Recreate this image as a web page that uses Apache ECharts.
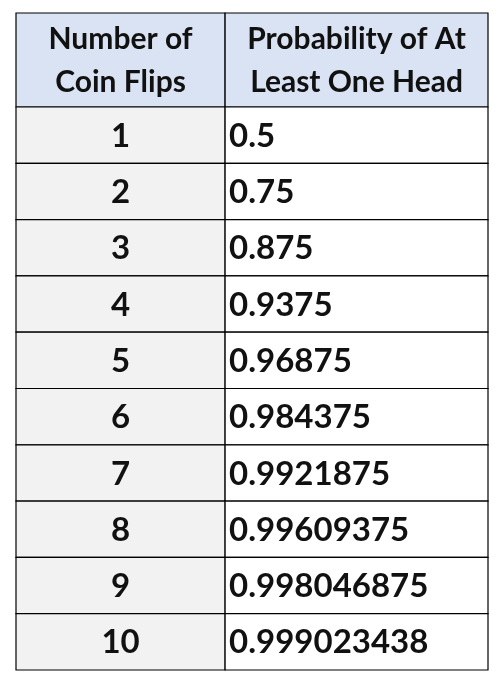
<!DOCTYPE html><html><head><meta charset="utf-8">
<script src="https://cdn.jsdelivr.net/npm/echarts@6/dist/echarts.min.js"></script>
<style>html,body{margin:0;background:#fff}#c{width:503px;height:676px}</style></head><body><div id="c"></div>
<script>
const headers = ['Number of\nCoin Flips', 'Probability of At\nLeast One Head'];
const flips = ['1','2','3','4','5','6','7','8','9','10'];
const probs = ['0.5','0.75','0.875','0.9375','0.96875','0.984375','0.9921875','0.99609375','0.998046875','0.999023438'];

const SPLIT = 0.443, HEAD = -1.67;
const cells = [];
headers.forEach((h, c) => cells.push([c, -1, h]));
flips.forEach((f, r) => { cells.push([0, r, f]); cells.push([1, r, probs[r]]); });

const chart = echarts.init(document.getElementById('c'));
chart.setOption({
  animation: false,
  grid: {left: 16, top: 13, width: 472, height: 657},
  xAxis: {type: 'value', min: 0, max: 1, show: false},
  yAxis: {type: 'value', min: HEAD, max: 10, inverse: true, show: false},
  series: [{
    type: 'custom',
    data: cells,
    renderItem: (params, api) => {
      const c = api.value(0), r = api.value(1), txt = cells[params.dataIndex][2];
      const x0 = c === 0 ? 0 : SPLIT, x1 = c === 0 ? SPLIT : 1;
      const y0 = r < 0 ? HEAD : r, y1 = r < 0 ? 0 : r + 1;
      const p0 = api.coord([x0, y0]), p1 = api.coord([x1, y1]);
      const fill = r < 0 ? '#DAE3F3' : (c === 0 ? '#F2F2F2' : '#FFFFFF');
      const center = r < 0 || c === 0;
      const size = r < 0 ? 30 : 33;
      return {type: 'group', children: [
        {type: 'rect', shape: {x: p0[0], y: p0[1], width: p1[0]-p0[0], height: p1[1]-p0[1]},
         style: {fill: fill, stroke: '#000', lineWidth: 1.2}},
        {type: 'text', style: {text: txt, x: center ? (p0[0]+p1[0])/2 : p0[0]+4, y: (p0[1]+p1[1])/2 + 1,
          align: center ? 'center' : 'left', verticalAlign: 'middle',
          font: 'bold ' + size + 'px Lato', lineHeight: 43, fill: '#111'}}
      ]};
    }
  }]
});
</script></body></html>
